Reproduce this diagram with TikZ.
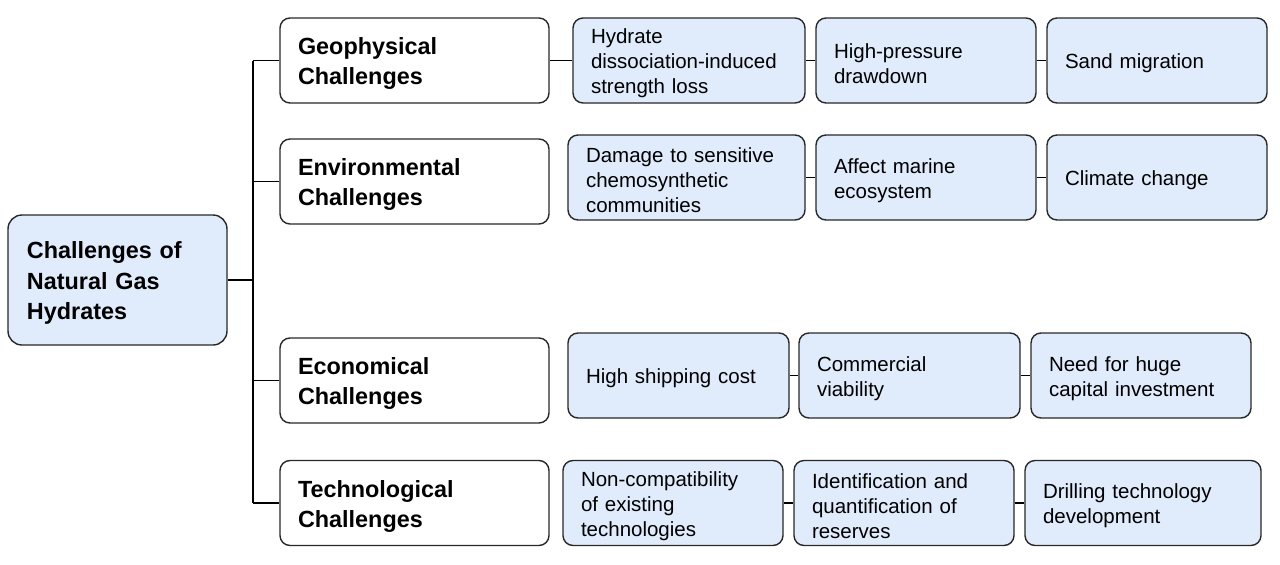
\documentclass[tikz,border=0pt]{standalone}
\usepackage{fontspec}
\setmainfont{Liberation Sans}
\definecolor{leafblue}{RGB}{224,235,252}
\definecolor{edgegray}{RGB}{40,40,40}

\begin{document}
\begin{tikzpicture}[x=1pt, y=-1pt,
            box/.style={draw=edgegray, line width=1.4pt, align=left, inner xsep=18pt, inner ysep=0pt, minimum height=85pt, execute at begin node={\rule{0pt}{\dimexpr0.74em+6pt\relax}}},
            rootbox/.style={box, fill=leafblue, rounded corners=14pt, inner xsep=19pt, minimum height=130pt, font=\fontsize{23.4}{30.5}\selectfont\bfseries},
            catbox/.style={box, fill=white, rounded corners=10pt, font=\fontsize{23.4}{30}\selectfont\bfseries},
            leafbox/.style={box, fill=leafblue, rounded corners=10pt, font=\fontsize{20.5}{25}\selectfont},
            link/.style={line width=1.4pt, black}]
            \useasboundingbox (0,0) rectangle (1280,565);

            % 根节点
            \node[rootbox, text width=181pt] (root) at (117.5,280) {Challenges of\\Natural Gas\\Hydrates};

            % 四类挑战
            \node[catbox, text width=233pt] (geo) at (414.5,60.5) {Geophysical\\Challenges};
            \node[catbox, text width=233pt] (env) at (414.5,181.5) {Environmental\\Challenges};
            \node[catbox, text width=233pt] (eco) at (414.5,380.5) {Economical\\Challenges};
            \node[catbox, text width=233pt] (tech) at (414.5,503) {Technological\\Challenges};

            % 第一行
            \node[leafbox, text width=196pt] (geoA) at (689,60.5) {Hydrate\\dissociation-induced\\strength loss};
            \node[leafbox, text width=184pt] (geoB) at (926,60.5) {High-pressure\\drawdown};
            \node[leafbox, text width=184pt] (geoC) at (1157,60.5) {Sand migration};

            % 第二行
            \node[leafbox, text width=201pt] (envA) at (686.5,177.5) {Damage to sensitive\\chemosynthetic\\communities};
            \node[leafbox, text width=184pt] (envB) at (926,177.5) {Affect marine\\ecosystem};
            \node[leafbox, text width=184pt] (envC) at (1157,177.5) {Climate change};

            % 第三行
            \node[leafbox, text width=185pt] (ecoA) at (678.5,375.5) {High shipping cost};
            \node[leafbox, text width=185pt] (ecoB) at (909.5,375.5) {Commercial\\viability};
            \node[leafbox, text width=184pt] (ecoC) at (1141,375.5) {Need for huge\\capital investment};

            % 第四行
            \node[leafbox, text width=184pt] (techA) at (673,503) {Non-compatibility\\of existing\\technologies};
            \node[leafbox, text width=184pt] (techB) at (904,503) {Identification and\\quantification of\\reserves};
            \node[leafbox, text width=200pt] (techC) at (1143,503) {Drilling technology\\development};

            % 主干
            \coordinate (trunk) at (253,280);
            \draw[link] (root.east) -- (trunk);
            \draw[link] (trunk |- geo.west) -- (trunk |- tech.west);
            \draw[link] (trunk |- geo.west) -- (geo.west);
            \draw[link] (trunk |- env.west) -- (env.west);
            \draw[link] (trunk |- eco.west) -- (eco.west);
            \draw[link] (trunk |- tech.west) -- (tech.west);

            % 横向连线
            \draw[link] (geo.east) -- (geoA.west);
            \draw[link] (geoA.east) -- (geoB.west);
            \draw[link] (geoB.east) -- (geoC.west);
            \draw[link] (envA.east) -- (envB.west);
            \draw[link] (envB.east) -- (envC.west);
            \draw[link] (ecoA.east) -- (ecoB.west);
            \draw[link] (ecoB.east) -- (ecoC.west);
            \draw[link] (techA.east) -- (techB.west);
            \draw[link] (techB.east) -- (techC.west);
\end{tikzpicture}
\end{document}
